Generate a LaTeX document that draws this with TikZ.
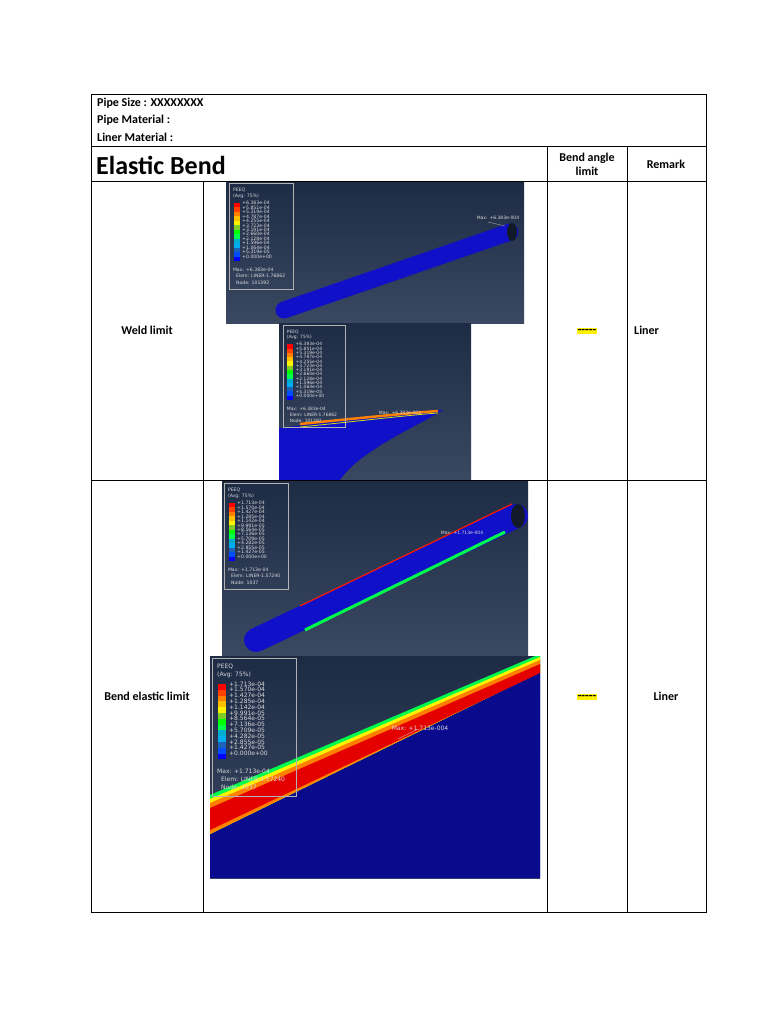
\documentclass[tikz,border=0pt]{standalone}
\usepackage{fontspec}
\setmainfont{Carlito}
\setsansfont{DejaVu Sans}
\definecolor{navtop}{HTML}{1E2B45}
\definecolor{navbot}{HTML}{3A4862}
\definecolor{pipeblue}{HTML}{1010C8}
\definecolor{deepblue}{HTML}{0A0A8C}
\begin{document}
\begin{tikzpicture}[x=1pt,y=-1pt,
  cell/.style={font=\bfseries\fontsize{12}{14}\selectfont,text=black},
  rule/.style={line width=0.9pt,black},
  navy/.style={top color=navtop, bottom color=navbot}]
\useasboundingbox (0,0) rectangle (768,1024);
\fill[white] (0,0) rectangle (768,1024);
\newcommand\feleg[7]{%
 \begin{scope}[shift={(#1,#2)},scale=#3,transform shape,font=\sffamily\fontsize{6}{6}\selectfont]
  \draw[gray!60,line width=0.6pt] (0,0) rectangle (84,138);
  \node[anchor=west,inner sep=0,text=gray!30] at (5,9) {PEEQ};
  \node[anchor=west,inner sep=0,text=gray!30] at (5,17) {(Avg: 75\%)};
  \foreach \c [count=\i from 0] in {red,red!50!orange,orange,orange!50!yellow,yellow,yellow!50!green,green,green!70!cyan,cyan!80!green,cyan,cyan!40!blue,blue!70!cyan,blue}
   {\fill[\c] (6,26+\i*5.8) rectangle (14,26+\i*5.8+5.8);}
  \foreach \v [count=\i from 0] in {#4}
   {\node[anchor=west,inner sep=0,text=gray!30] at (17,26+\i*5.8) {\v};}
  \node[anchor=west,inner sep=0,text=gray!30] at (5,113) {Max: #5};
  \node[anchor=west,inner sep=0,text=gray!30] at (9,121) {Elem: #6};
  \node[anchor=west,inner sep=0,text=gray!30] at (9,129) {Node: #7};
 \end{scope}}
% header texts
\node[cell,anchor=west,inner sep=0] (ps) at (97,103) {Pipe Size : XXXXXXXX};
\node[cell,anchor=west,inner sep=0] (pm) at (97,120) {Pipe Material :};
\node[cell,anchor=west,inner sep=0] (lm) at (97,137) {Liner Material :};
\node[anchor=west,inner sep=0,font=\bfseries\fontsize{26}{28}\selectfont] (eb) at (96,165) {Elastic Bend};
\node[cell,align=center,inner sep=0] (ba) at (587,164) {Bend angle\\limit};
\node[cell,inner sep=0] (rm) at (666,164) {Remark};
\node[cell,inner sep=0] (wl) at (147,330) {Weld limit};
\node[cell,inner sep=1pt,fill=yellow] (d1) at (587,331) {{-}{-}{-}{-}{-}};
\node[cell,anchor=west,inner sep=0] (l1) at (634,330) {Liner};
\node[cell,inner sep=0] (bl) at (147,696) {Bend elastic limit};
\node[cell,inner sep=1pt,fill=yellow] (d2) at (587,697) {{-}{-}{-}{-}{-}};
\node[cell,inner sep=0] (l2) at (666,696) {Liner};
% image 1
\fill[navy] (226,182) rectangle (524,323);
\draw[pipeblue,line width=17pt,line cap=round] (284,310) -- (510,232);
\fill[navtop!60!black] (512,232) ellipse (5 and 9);
\draw[gray!50,line width=0.3pt] (488,222) -- (505,226);
\node[font=\sffamily\fontsize{4.5}{5}\selectfont,text=gray!30,inner sep=0] (m1) at (498,218) {Max: +6.383e-004};
\feleg{229}{183}{0.77}{+6.383e-04,+5.851e-04,+5.319e-04,+4.787e-04,+4.255e-04,+3.723e-04,+3.191e-04,+2.660e-04,+2.128e-04,+1.596e-04,+1.064e-04,+5.319e-05,+0.000e+00}{+6.383e-04}{LINER-1.76862}{101392}
% image 2
\fill[navy] (279,323) rectangle (471,480);
\fill[pipeblue] (279,480) -- (279,428) .. controls (350,420) and (410,412) .. (443,410) .. controls (420,425) and (360,450) .. (340,480) -- cycle;
\draw[orange,line width=2.5pt] (300,424) .. controls (360,418) and (410,413) .. (438,411);
\draw[yellow!80!green,line width=0.8pt] (300,427) .. controls (360,421) and (410,415) .. (438,413);
\node[font=\sffamily\fontsize{4.5}{5}\selectfont,text=gray!30,inner sep=0] (m2) at (400,413) {Max: +6.383e-004};
\feleg{283}{325}{0.74}{+6.383e-04,+5.851e-04,+5.319e-04,+4.787e-04,+4.255e-04,+3.723e-04,+3.191e-04,+2.660e-04,+2.128e-04,+1.596e-04,+1.064e-04,+5.319e-05,+0.000e+00}{+6.383e-04}{LINER-1.76862}{101392}
% image 3
\fill[navy] (222,481) rectangle (528,656);
\draw[pipeblue,line width=24pt,line cap=round] (256,640) -- (516,516);
\draw[red!80!orange,line width=1.2pt] (300,606) -- (512,504);
\draw[green!70!cyan,line width=3pt] (305,630) -- (505,532);
\fill[navtop!60!black] (518,516) ellipse (7 and 12);
\node[font=\sffamily\fontsize{4.5}{5}\selectfont,text=gray!30,inner sep=0] (m3) at (462,533) {Max: +1.713e-004};
\feleg{224}{483}{0.77}{+1.713e-04,+1.570e-04,+1.427e-04,+1.285e-04,+1.142e-04,+9.991e-05,+8.564e-05,+7.136e-05,+5.709e-05,+4.282e-05,+2.855e-05,+1.427e-05,+0.000e+00}{+1.713e-04}{LINER-1.57240}{1037}
% image 4
\begin{scope}
\clip (210,656) rectangle (540,878);
\fill[navy] (210,656) rectangle (540,878);
\fill[deepblue] (210,878) -- (540,878) -- (540,672) -- (210,834) -- cycle;
\fill[green!70!cyan] (210,795) -- (540,654) -- (540,672) -- (210,834) -- cycle;
\fill[yellow] (210,799) -- (540,657) -- (540,672) -- (210,834) -- cycle;
\fill[orange] (210,803) -- (540,660) -- (540,672) -- (210,834) -- cycle;
\fill[red!90!black] (210,808) -- (540,664) -- (540,673) -- (210,830) -- cycle;
\end{scope}
\draw[gray!40,line width=0.3pt] (398,739) -- (418,729);
\node[font=\sffamily\fontsize{6}{6}\selectfont,text=gray!30,inner sep=0] (m4) at (420,728) {Max: +1.713e-004};
\feleg{212}{658}{1}{+1.713e-04,+1.570e-04,+1.427e-04,+1.285e-04,+1.142e-04,+9.991e-05,+8.564e-05,+7.136e-05,+5.709e-05,+4.282e-05,+2.855e-05,+1.427e-05,+0.000e+00}{+1.713e-04}{LINER-1.57240}{1037}
% table rules
\draw[rule] (91,94) rectangle (706,912);
\draw[rule] (91,146) -- (706,146);
\draw[rule] (91,181) -- (706,181);
\draw[rule] (91,480) -- (706,480);
\draw[rule] (203,181) -- (203,912);
\draw[rule] (547,146) -- (547,912);
\draw[rule] (627,146) -- (627,912);
\end{tikzpicture}
\end{document}
